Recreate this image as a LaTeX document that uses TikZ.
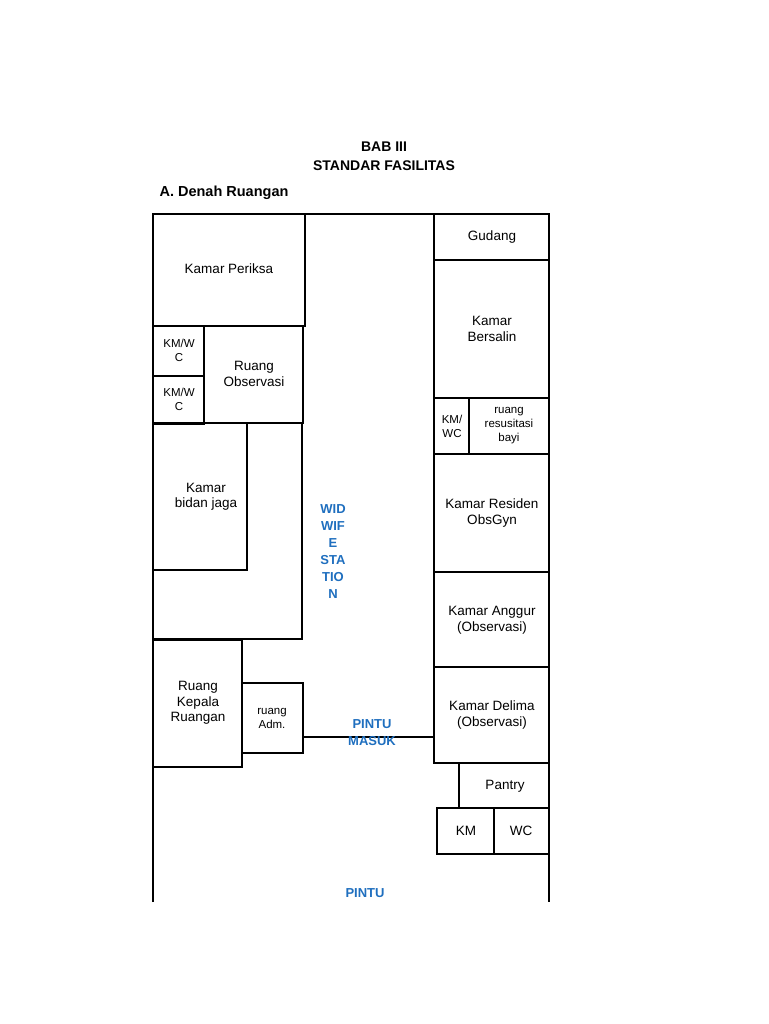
\documentclass[tikz,border=0pt]{standalone}
\usepackage{fontspec}
\setmainfont{Liberation Sans}
\begin{document}
\begin{tikzpicture}[x=1pt,y=-1pt,
  room/.style={draw,line width=1.2pt},
  lbl/.style={align=center,font=\fontsize{13.5}{15.5}\selectfont},
  sm/.style={align=center,font=\fontsize{11.5}{14}\selectfont},
  blue/.style={text=bluec,font=\fontsize{13}{17}\selectfont\bfseries,align=center},
  wall/.style={line width=1.2pt}]
\definecolor{bluec}{HTML}{1F6FBF}
\useasboundingbox[fill=white] (0,0) rectangle (768,1024);
\node[font=\fontsize{14}{16}\selectfont\bfseries] (t1) at (384,147) {BAB III};
\node[font=\fontsize{14}{16}\selectfont\bfseries] (t2) at (384,166) {STANDAR FASILITAS};
\node[font=\fontsize{14.5}{16}\selectfont\bfseries,anchor=west] (t3) at (156,193) {A. Denah Ruangan};
% outer walls
\draw[wall] (153,902) -- (153,214) -- (549,214) -- (549,902);
% left rooms
\draw[room] (153,214) rectangle (305,326);
\node[lbl] (kp) at (229,269) {Kamar Periksa};
\draw[room] (153,326) rectangle (204,376);
\node[sm] (km1) at (179,350) {KM/W\\C};
\draw[room] (153,376) rectangle (204,424);
\node[sm] (km2) at (179,399) {KM/W\\C};
\draw[room] (204,326) rectangle (303,423);
\node[lbl] (ro) at (254,374) {Ruang\\Observasi};
\draw[room] (153,423) rectangle (247,570);
\node[lbl] (kbj) at (206,497) {Kamar\\bidan jaga};
\draw[wall] (302,423) -- (302,639) -- (153,639);
\draw[room] (153,640) rectangle (242,767);
\node[lbl] (rkr) at (198,703) {Ruang\\Kepala\\Ruangan};
\draw[room] (242,683) rectangle (303,753);
\node[sm] (adm) at (272,718) {ruang\\Adm.};
\draw[wall] (303,737) -- (434,737);
% right rooms
\draw[room] (434,214) rectangle (549,260);
\node[lbl] (gd) at (492,237) {Gudang};
\draw[room] (434,260) rectangle (549,398);
\node[lbl] (kb) at (492,329) {Kamar\\Bersalin};
\draw[room] (434,398) rectangle (469,454);
\node[sm] (kmwc) at (452,426) {KM/\\WC};
\draw[room] (469,398) rectangle (549,454);
\node[sm] (res) at (509,426) {ruang\\resusitasi\\bayi};
\draw[room] (434,454) rectangle (549,572);
\node[lbl] (krs) at (492,513) {Kamar Residen\\ObsGyn};
\draw[room] (434,572) rectangle (549,667);
\node[lbl] (ka) at (492,620) {Kamar Anggur\\(Observasi)};
\draw[room] (434,667) rectangle (549,763);
\node[lbl] (kd) at (492,715) {Kamar Delima\\(Observasi)};
\draw[room] (459,763) rectangle (549,808);
\node[lbl] (pt) at (505,786) {Pantry};
\draw[room] (437,808) rectangle (494,854);
\node[lbl] (km) at (466,831) {KM};
\draw[room] (494,808) rectangle (549,854);
\node[lbl] (wc) at (521,831) {WC};
% blue labels
\node[blue] (ws) at (333,552) {WID\\WIF\\E\\STA\\TIO\\N};
\node[blue] (pm) at (372,733) {PINTU\\MASUK};
\node[blue] (p2) at (365,893) {PINTU};
\end{tikzpicture}
\end{document}
